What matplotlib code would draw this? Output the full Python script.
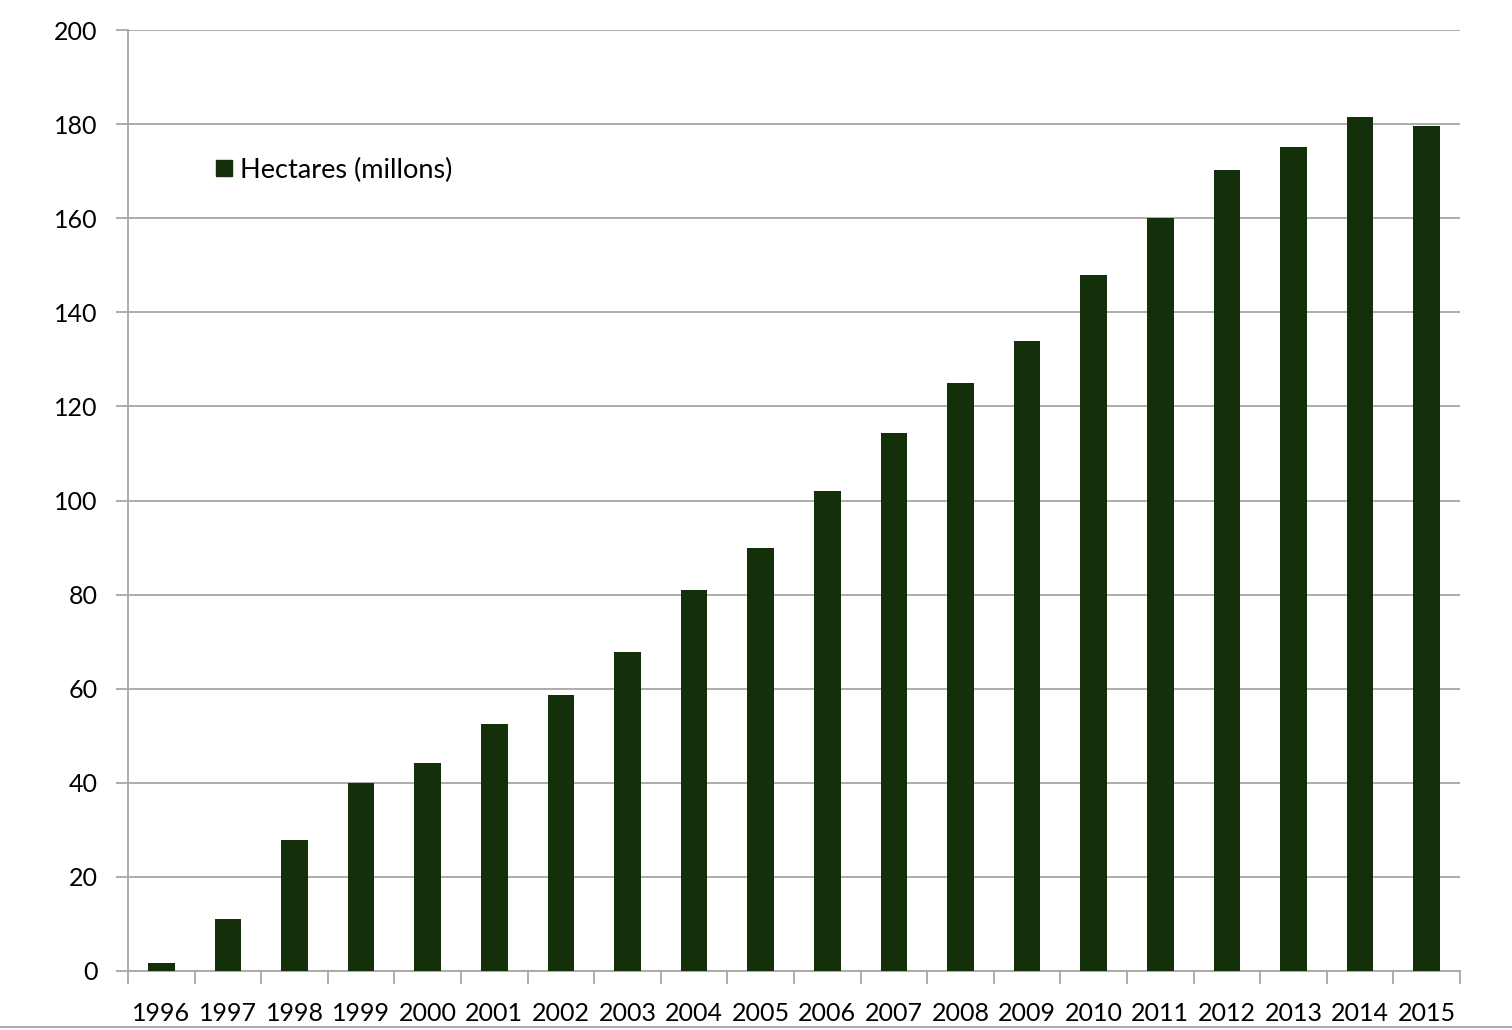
import matplotlib.pyplot as plt
from matplotlib.lines import Line2D

years = [str(y) for y in range(1996, 2016)]
hectares = [1.7, 11.0, 27.8, 39.9, 44.2, 52.6, 58.7, 67.7, 81.0, 90.0,
            102.0, 114.3, 125.0, 134.0, 148.0, 160.0, 170.3, 175.2, 181.5, 179.7]
series_name = "Hectares (millons)"

plt.rcParams["font.family"] = ["Lato", "DejaVu Sans"]

fig = plt.figure(figsize=(15.12, 10.30), dpi=100)
ax = fig.add_axes([128 / 1512, 59 / 1030, 1332 / 1512, 941 / 1030])

x = list(range(len(years)))
ax.bar(x, hectares, width=0.4, color="#13300a", zorder=3)

ax.set_xlim(-0.5, len(years) - 0.5)
ax.set_ylim(0, 200)
ax.set_yticks(range(0, 201, 20))
ax.grid(axis="y", color="#a6a6a6", linewidth=1.3, zorder=0)

# tick marks between categories, labels centred on bars
ax.set_xticks([i - 0.5 for i in range(len(years) + 1)])
ax.set_xticklabels([])
ax.set_xticks(x, minor=True)
ax.set_xticklabels(years, minor=True, fontsize=18)
ax.tick_params(axis="x", which="major", length=9, width=1.3, color="#a6a6a6")
ax.tick_params(axis="x", which="minor", length=0, pad=22)
ax.tick_params(axis="y", length=9, width=1.3, color="#a6a6a6", labelsize=18, pad=13)

for side in ["top", "right"]:
    ax.spines[side].set_visible(False)
for side in ["left", "bottom"]:
    ax.spines[side].set_color("#a6a6a6")
    ax.spines[side].set_linewidth(1.3)

handle = Line2D([], [], marker="s", linestyle="none", markersize=12,
                color="#13300a")
ax.legend([handle], [series_name], loc="center left", bbox_to_anchor=(0.0657, 0.851),
          frameon=False, fontsize=19.5, handlelength=0.62, handletextpad=0.27,
          borderpad=0, borderaxespad=0)

fig.add_artist(Line2D([0, 1], [3 / 1030, 3 / 1030], color="#a6a6a6", linewidth=1.3))

fig.savefig("out.png", dpi=100)
